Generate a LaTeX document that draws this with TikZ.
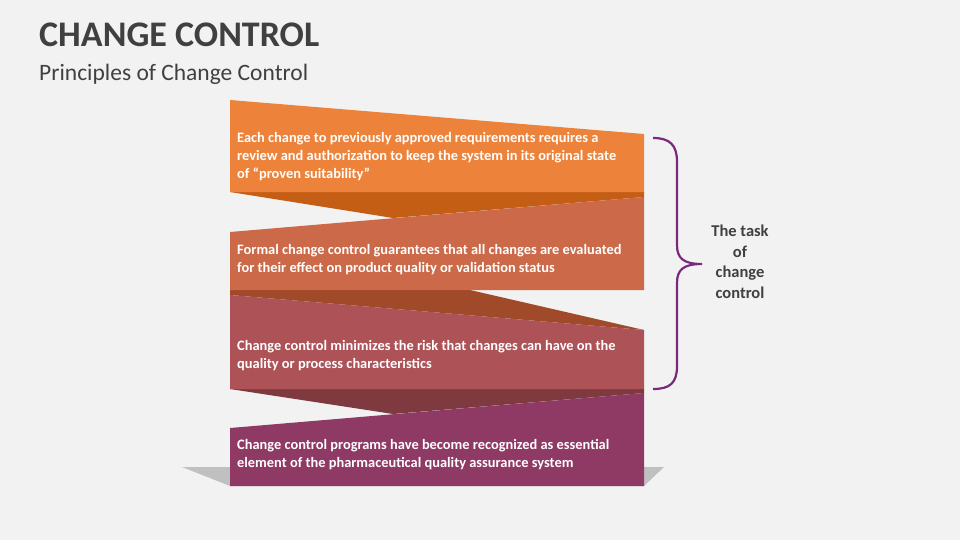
\documentclass[tikz,border=0pt]{standalone}
\usepackage{fontspec}
\setmainfont{Carlito}
\begin{document}
\begin{tikzpicture}[x=1pt,y=-1pt,
  bandtext/.style={anchor=west,align=left,text=white,font=\fontsize{14.4}{18}\selectfont\bfseries,inner sep=0pt},
  brace/.style={draw=bracec,line width=2.2pt}]
\definecolor{bg}{HTML}{F2F2F2}
\definecolor{cA}{HTML}{ED833A}
\definecolor{cAf}{HTML}{C55E15}
\definecolor{cB}{HTML}{CC6948}
\definecolor{cBf}{HTML}{A04A2A}
\definecolor{cC}{HTML}{AD5357}
\definecolor{cCf}{HTML}{7F3A40}
\definecolor{cD}{HTML}{8E3A64}
\definecolor{dark}{HTML}{404040}
\definecolor{bracec}{HTML}{7B2A7B}
\definecolor{shadow}{HTML}{C0C0C0}
\fill[bg] (0,0) rectangle (960,540);
\useasboundingbox (0,0) rectangle (960,540);
\node[anchor=west,inner sep=0pt,text=dark,font=\fontsize{36}{40}\selectfont\bfseries] (title) at (39,35) {CHANGE CONTROL};
\node[anchor=west,inner sep=0pt,text=dark,font=\fontsize{23.5}{28}\selectfont] (sub) at (39,74) {Principles of Change Control};
% folds
\fill[cAf] (230,192) -- (644,192) -- (644,197) -- (393,218) -- cycle;
\fill[cBf] (230,290) -- (470,290) -- (644,330) -- (230,295) -- cycle;
\fill[cCf] (230,389) -- (644,389) -- (644,393) -- (393,414) -- cycle;
\fill[shadow] (182,467) -- (664,467) -- (644,486) -- (230,486) -- cycle;
% bands
\fill[cA] (230,100) -- (644,134) -- (644,192) -- (230,192) -- cycle;
\fill[cB] (230,232) -- (644,197) -- (644,290) -- (230,290) -- cycle;
\fill[cC] (230,295) -- (644,330) -- (644,389) -- (230,389) -- cycle;
\fill[cD] (230,428) -- (644,393) -- (644,486) -- (230,486) -- cycle;
\node[bandtext] (t1) at (237,157) {Each change to previously approved requirements requires a\\review and authorization to keep the system in its original state\\of “proven suitability”};
\node[bandtext] (t2) at (237,260) {Formal change control guarantees that all changes are evaluated\\for their effect on product quality or validation status};
\node[bandtext] (t3) at (237,356) {Change control minimizes the risk that changes can have on the\\quality or process characteristics};
\node[bandtext] (t4) at (237,455) {Change control programs have become recognized as essential\\element of the pharmaceutical quality assurance system};
% brace
\coordinate (bt) at (653,138);
\coordinate (bm) at (702,264);
\coordinate (bb) at (653,389);
\draw[brace] (bt) .. controls (670,138) and (677,145) .. (677,162) -- (677,245) .. controls (677,258) and (683,264) .. (bm)
  .. controls (683,264) and (677,270) .. (677,283) -- (677,366) .. controls (677,383) and (670,389) .. (bb);
\node[align=center,text=dark,font=\fontsize{16.5}{20.5}\selectfont\bfseries,inner sep=0pt] (task) at (740,262) {The task\\of\\change\\control};
\end{tikzpicture}
\end{document}
